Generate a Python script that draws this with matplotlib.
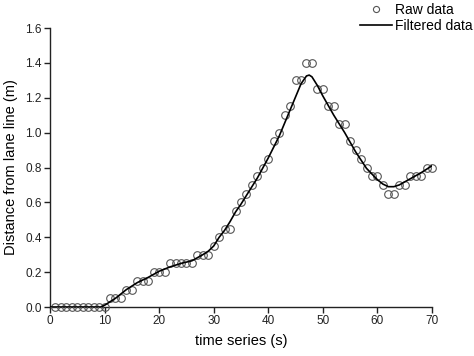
import matplotlib
matplotlib.use("Agg")
import matplotlib.pyplot as plt

plt.rcParams['font.family'] = ['Liberation Sans', 'DejaVu Sans']

# Raw data (t = 1..70 s)
raw_t = list(range(1, 71))
raw_y = [0, 0, 0, 0, 0, 0, 0, 0, 0, 0,
         0.05, 0.05, 0.05, 0.10, 0.10, 0.15, 0.15, 0.15, 0.20, 0.20,
         0.20, 0.25, 0.25, 0.25, 0.25, 0.25, 0.30, 0.30, 0.30, 0.35,
         0.40, 0.45, 0.45, 0.55, 0.60, 0.65, 0.70, 0.75, 0.80, 0.85,
         0.95, 1.00, 1.10, 1.15, 1.30, 1.30, 1.40, 1.40, 1.25, 1.25,
         1.15, 1.15, 1.05, 1.05, 0.95, 0.90, 0.85, 0.80, 0.75, 0.75,
         0.70, 0.65, 0.65, 0.70, 0.70, 0.75, 0.75, 0.75, 0.80, 0.80]

# Filtered data
filt_t = [0, 9.3, 10, 12, 14, 16, 18, 20, 22, 24, 26, 28, 29, 30, 31, 32, 33, 34,
          35, 36, 38, 40, 42, 44, 46, 47, 47.5, 48, 49, 50, 52, 54, 56, 58, 60, 61,
          62, 63, 64, 66, 68, 70]
filt_y = [0, 0, 0.01, 0.05, 0.10, 0.14, 0.17, 0.205, 0.23, 0.25, 0.265, 0.30, 0.32,
          0.35, 0.40, 0.44, 0.49, 0.545, 0.59, 0.64, 0.74, 0.855, 0.98, 1.13, 1.28,
          1.325, 1.33, 1.32, 1.27, 1.21, 1.10, 1.00, 0.89, 0.795, 0.73, 0.705,
          0.69, 0.69, 0.70, 0.735, 0.77, 0.81]

fig = plt.figure(figsize=(4.74, 3.56), dpi=100)
ax = fig.add_axes([50/474, 1 - 307/356, (432 - 50)/474, (307 - 28)/356])

ax.plot(raw_t, raw_y, linestyle='none', marker='o', markersize=5.5,
        markerfacecolor='none', markeredgecolor='#555555', markeredgewidth=0.8,
        label='Raw data', clip_on=False, zorder=3)
ax.plot(filt_t, filt_y, color='black', linewidth=1.2, label='Filtered data', zorder=4)

ax.set_xlim(0, 70)
ax.set_ylim(0, 1.6)
ax.set_xticks(range(0, 71, 10))
ax.set_yticks([i * 0.2 for i in range(9)])
ax.set_yticklabels([f"{i*0.2:.1f}" for i in range(9)])

for s in ['top', 'right']:
    ax.spines[s].set_visible(False)
for s in ['left', 'bottom']:
    ax.spines[s].set_linewidth(1.0)
    ax.spines[s].set_color('#222222')
ax.tick_params(direction='out', length=4, width=1.0, labelsize=8.5, colors='#222222', pad=2)

ax.set_xlabel('time series (s)', fontsize=10.5, labelpad=5)
ax.set_ylabel('Distance from lane line (m)', fontsize=10.5, labelpad=5)

leg = fig.legend(loc='upper right', bbox_to_anchor=(1.012, 1.012), frameon=False,
                 fontsize=10, handlelength=2.3, handletextpad=0.25,
                 labelspacing=0.15, borderaxespad=0.1, markerscale=0.8)

fig.savefig('out.png', dpi=100)
